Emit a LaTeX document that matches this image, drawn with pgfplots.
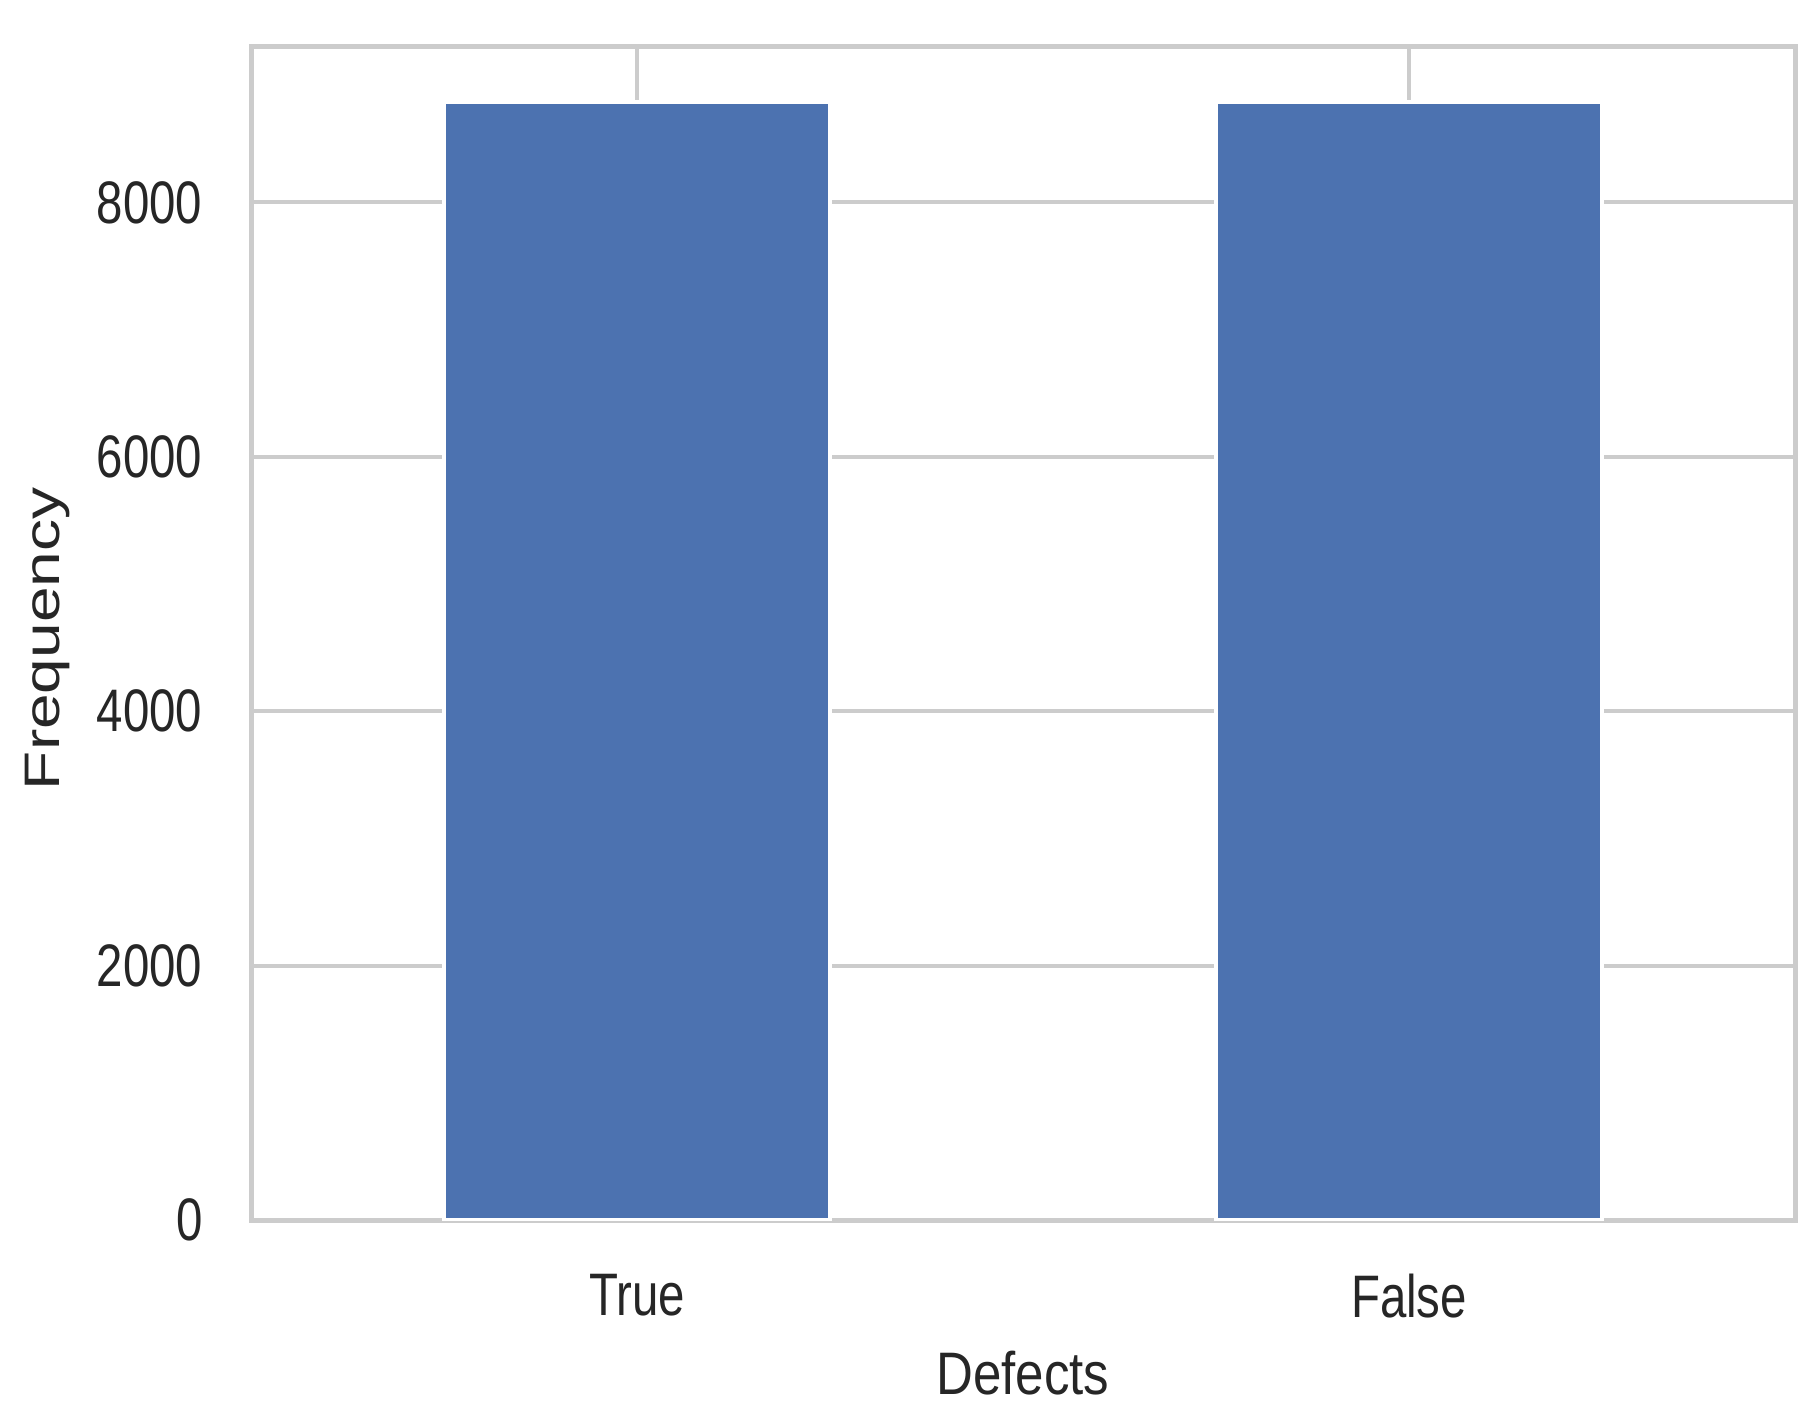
\documentclass[border=0pt]{standalone}
\usepackage{pgfplots}
\pgfplotsset{compat=1.18}
\usepackage{fontspec}
\setmainfont{Liberation Sans}
\definecolor{barblue}{HTML}{4C72B0}
\definecolor{gridgray}{HTML}{CCCCCC}
\definecolor{textgray}{HTML}{262626}
\pgfplotsset{
  layers/framefront/.define layer set={axis background,axis grid,axis ticks,main,axis lines,axis tick labels,axis descriptions,axis foreground}{},
}
\begin{document}
\begin{tikzpicture}
\begin{axis}[
  set layers=framefront,
  at={(0pt,0pt)}, anchor=south west,
  scale only axis, width=386pt, height=293.5pt,
  xmin=-0.5, xmax=1.5, ymin=0, ymax=9230,
  xtick={0,1}, xticklabels={True,False},
  ytick={0,2000,4000,6000,8000},
  scaled y ticks=false,
  /pgf/number format/assume math mode=true,
  /pgf/number format/1000 sep={},
  grid=major,
  major grid style={color=gridgray, line width=1pt},
  axis line style={color=gridgray, line width=1.25pt},
  tick style={draw=none},
  yticklabel style={font=\fontsize{15}{18}\selectfont, text=textgray, inner sep=0pt, anchor=east, xshift=-12pt, xscale=0.79},
  xticklabel style={font=\fontsize{15}{18}\selectfont, text=textgray, inner sep=0pt, anchor=north, yshift=-13.25pt, xscale=0.79},
  xlabel={Defects},
  ylabel={Frequency},
  xlabel style={font=\fontsize{15}{18}\selectfont, text=textgray, at={(axis description cs:0.5,0)}, anchor=north, inner sep=0pt, yshift=-32.5pt, xscale=0.85},
  ylabel style={font=\fontsize{16}{19}\selectfont, text=textgray, at={(axis description cs:-0.1321,0.495)}, anchor=center, inner sep=0pt, yscale=0.78},
]
\addplot[ybar, bar width=0.5, fill=barblue, draw=white, line width=1.2pt] coordinates {(0,8790) (1,8790)};
\end{axis}
\pgfresetboundingbox
\path[use as bounding box] (-62.75pt,-51.75pt) rectangle (392.25pt,305pt);
\end{tikzpicture}
\end{document}
